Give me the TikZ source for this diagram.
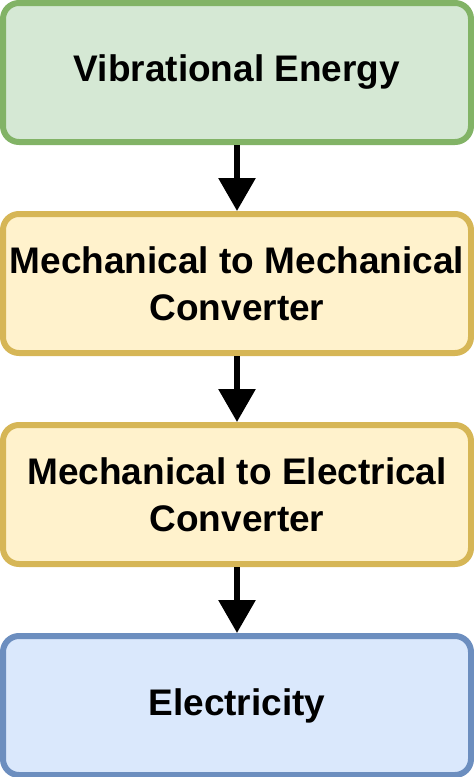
\documentclass[tikz,border=0pt]{standalone}
\usepackage{fontspec}
\setmainfont{Liberation Sans}
\usetikzlibrary{positioning,arrows.meta}
\definecolor{nenxanh}{HTML}{D5E8D4}
\definecolor{vienxanh}{HTML}{82B366}
\definecolor{nenvang}{HTML}{FFF2CC}
\definecolor{vienvang}{HTML}{D6B656}
\definecolor{nenlam}{HTML}{DAE8FC}
\definecolor{vienlam}{HTML}{6C8EBF}
\begin{document}
\begin{tikzpicture}[x=1pt,y=1pt,line join=round,
	font=\bfseries\fontsize{37}{46.7}\selectfont,
	hop/.style={draw,line width=6pt,rounded corners=16pt,minimum width=468pt,minimum height=139pt,inner sep=2pt,align=center},
	muiten/.style={-{Triangle[width=36pt,length=33pt]},line width=6pt,line cap=butt}]
	\def\d{66pt} % khoang cach giua cac hop
	\useasboundingbox (0,0) rectangle (474,-777);
	% ve cac hop
	\node[hop,draw=vienxanh,fill=nenxanh] (NL) at (237,-72.5) {Vibrational Energy};
	\node[hop,draw=vienvang,fill=nenvang,below=\d of NL] (CK) {Mechanical to Mechanical\\Converter};
	\node[hop,draw=vienvang,fill=nenvang,below=\d of CK] (CD) {Mechanical to Electrical\\Converter};
	\node[hop,draw=vienlam,fill=nenlam,below=\d of CD] (DN) {Electricity};
	% ve cac mui ten
	\draw[muiten] (NL)--(CK);
	\draw[muiten] (CK)--(CD);
	\draw[muiten] (CD)--(DN);
\end{tikzpicture}
\end{document}
